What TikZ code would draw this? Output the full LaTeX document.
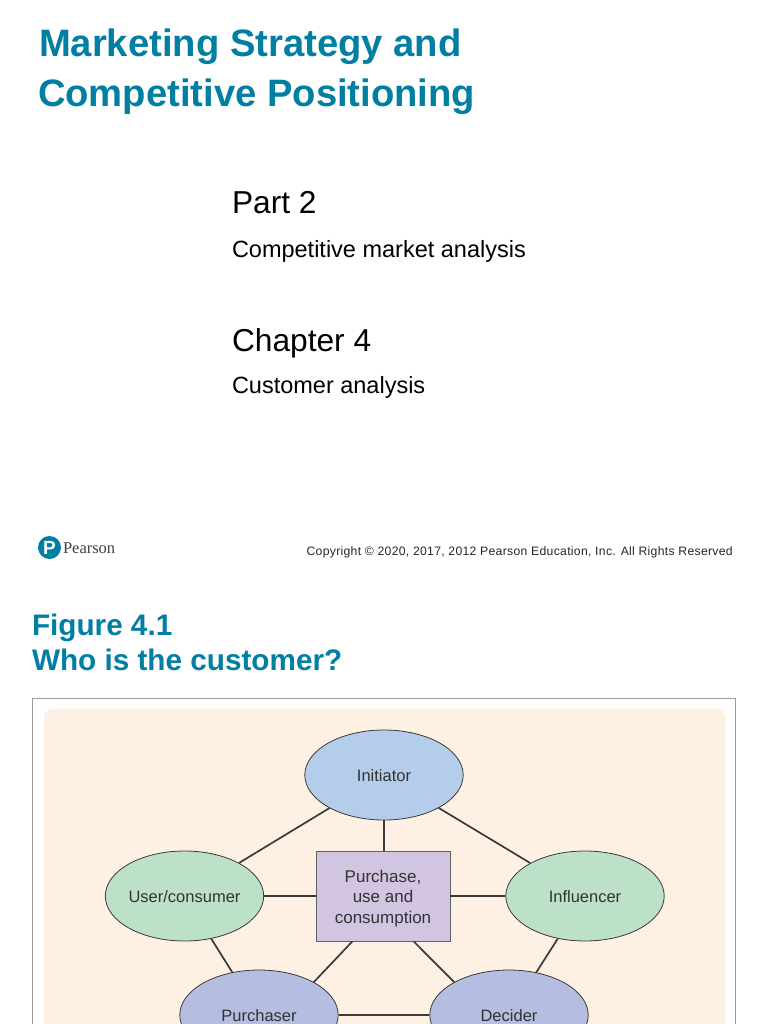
\documentclass[tikz,border=0pt]{standalone}
\usepackage{fontspec}
\usetikzlibrary{shapes.geometric}
\setmainfont{Liberation Sans}
\newfontfamily\serifpear{Liberation Serif}
\definecolor{teal}{HTML}{007FA3}
\definecolor{cream}{HTML}{FEF1E3}
\definecolor{initblue}{HTML}{B4CDEA}
\definecolor{usergreen}{HTML}{BCE0C8}
\definecolor{purpblue}{HTML}{B5BDE0}
\definecolor{boxlilac}{HTML}{D2C5E2}
\definecolor{edge}{HTML}{3A3A38}
\tikzset{
 x=1pt,y=-1pt,
 txt/.style={anchor=base west,inner sep=0pt,outer sep=0pt},
 titletxt/.style={txt,text=teal,font=\fontsize{38.2}{38.2}\selectfont\bfseries},
 headtxt/.style={txt,font=\fontsize{31.7}{31.7}\selectfont},
 subtxt/.style={txt,font=\fontsize{23.5}{23.5}\selectfont},
 figtxt/.style={txt,text=teal,font=\fontsize{29.7}{29.7}\selectfont\bfseries},
 role/.style={ellipse,draw=edge,line width=.8pt,minimum width=158.4pt,minimum height=90pt,inner sep=0pt,text width=112pt,align=center,text height=13.4pt,text depth=1pt,text=black!80,font=\fontsize{16.5}{16.5}\selectfont},
 centrebox/.style={rectangle,draw=edge!80,line width=.8pt,fill=boxlilac,minimum width=134pt,minimum height=90pt,inner sep=0pt,align=center,text=black!80,font=\fontsize{17}{20.4}\selectfont},
 link/.style={draw=edge,line width=1.7pt},
}
\begin{document}
\begin{tikzpicture}
\useasboundingbox (0,0) rectangle (768,1024);
\clip (0,0) rectangle (768,1024);
\fill[white] (0,0) rectangle (768,1024);
\node[titletxt] (t1) at (39,57) {Marketing Strategy and};
\node[titletxt] (t2) at (38,107) {Competitive Positioning};
\node[headtxt] (part) at (232,214) {Part 2};
\node[subtxt] (partsub) at (232,258) {Competitive market analysis};
\node[headtxt] (chap) at (232,351) {Chapter 4};
\node[subtxt] (chapsub) at (232,393) {Customer analysis};
\node[circle,fill=teal,minimum size=23pt,inner sep=0pt,text=white,font=\fontsize{19}{19}\selectfont\bfseries] (logo) at (49.5,547.5) {P};
\node[txt,text=black!75,font=\serifpear\fontsize{16.5}{16.5}\selectfont] (pearson) at (63,553) {Pearson};
\node[anchor=base east,inner sep=0pt,text=black!85,font=\addfontfeature{LetterSpace=2.5}\fontsize{12.2}{12.2}\selectfont] (copy) at (733,555) {Copyright © 2020, 2017, 2012 Pearson Education, Inc. All Rights Reserved};
\node[figtxt] (f1) at (32,635) {Figure 4.1};
\node[figtxt] (f2) at (32,670) {Who is the customer?};
\draw[black!40,line width=1pt,fill=white] (32.5,1060) -- (32.5,698) -- (735,698) -- (735,1060);
\fill[cream,rounded corners=9pt] (44,708.5) rectangle (725,1060);
\node[role,fill=initblue] (init) at (384,775) {Initiator};
\node[role,fill=usergreen] (user) at (184.5,896) {User/consumer};
\node[role,fill=usergreen] (infl) at (585,896) {Influencer};
\node[role,fill=purpblue] (purch) at (259,1015) {Purchaser};
\node[role,fill=purpblue] (decid) at (509,1015) {Decider};
\node[centrebox] (mid) at (383,896) {\rule{0pt}{17pt}Purchase,\\use and\\consumption};
\draw[link] (init) -- (user);
\draw[link] (init) -- (infl);
\draw[link] (init) -- (init |- mid.north);
\draw[link] (user) -- (mid);
\draw[link] (mid) -- (infl);
\draw[link] (user) -- (purch);
\draw[link] (infl) -- (decid);
\draw[link] (purch) -- (decid);
\draw[link] (mid.236.7) -- (purch.31.4);
\draw[link] (mid.304.2) -- (decid.149);
\end{tikzpicture}
\end{document}
